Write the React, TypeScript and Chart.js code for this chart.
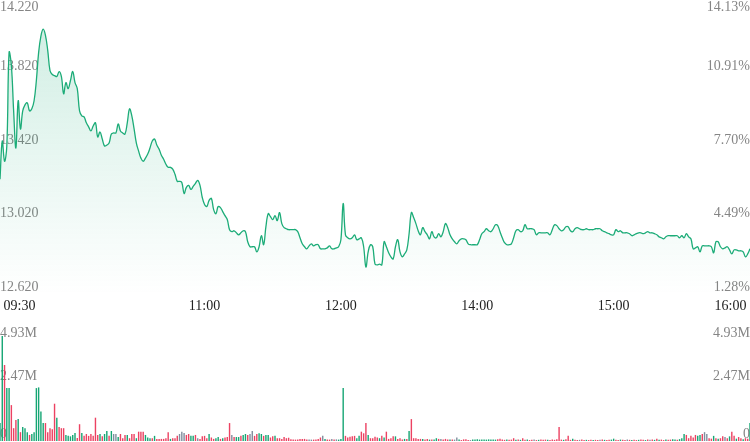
import { useEffect, useRef } from 'react';
import { Chart, registerables } from 'chart.js';

Chart.register(...registerables);

// previous close, used for the percentage labels on the right
const PRE_CLOSE = 12.46;
const PRICE_MIN = 12.62;
const PRICE_MAX = 14.22;
const PRICE_TICKS = [12.62, 13.02, 13.42, 13.82];
const PRICE_TOP_TICK = [14.22];

// minutes since 09:30, lunch break removed (12:00 and 13:00 share one point)
const TIME_TICKS = [0, 90, 150, 210, 270, 330];
const TIME_LABELS = ['09:30', '11:00', '12:00', '14:00', '15:00', '16:00'];

// volume in millions
const VOL_MAX = 4.934;

// one price per minute
const PRICE = [
  13.245, 13.453, 13.343, 13.426, 13.935, 13.864, 13.617, 13.415, 13.672, 13.519, 13.617,
  13.650, 13.661, 13.617, 13.628, 13.672, 13.782, 13.935, 14.023, 14.061, 14.028,
  13.946, 13.836, 13.815, 13.809, 13.804, 13.831, 13.804, 13.710, 13.771, 13.738,
  13.782, 13.831, 13.771, 13.738, 13.617, 13.590, 13.584, 13.552, 13.530, 13.508,
  13.535, 13.552, 13.475, 13.502, 13.464, 13.426, 13.431, 13.442, 13.491, 13.497,
  13.497, 13.546, 13.508, 13.497, 13.491, 13.552, 13.628, 13.590, 13.519, 13.442,
  13.398, 13.360, 13.343, 13.360, 13.382, 13.415, 13.453, 13.464, 13.431, 13.409,
  13.376, 13.354, 13.327, 13.310, 13.310, 13.300, 13.272, 13.234, 13.234, 13.228,
  13.168, 13.201, 13.212, 13.190, 13.206, 13.223, 13.239, 13.212, 13.146, 13.108,
  13.097, 13.130, 13.141, 13.080, 13.058, 13.097, 13.091, 13.069, 13.047, 13.026,
  12.971, 12.960, 12.965, 12.954, 12.943, 12.954, 12.965, 12.960, 12.905, 12.878,
  12.878, 12.878, 12.850, 12.878, 12.938, 12.889, 12.987, 13.058, 13.042, 13.026,
  13.047, 13.020, 13.064, 13.004, 12.982, 12.976, 12.971, 12.971, 12.971, 12.971,
  12.960, 12.927, 12.894, 12.878, 12.867, 12.883, 12.894, 12.883, 12.889, 12.889,
  12.867, 12.867, 12.867, 12.872, 12.883, 12.867, 12.867, 12.872, 12.878, 12.916,
  13.113, 12.943, 12.927, 12.921, 12.927, 12.943, 12.916, 12.921, 12.927, 12.878,
  12.768, 12.850, 12.889, 12.878, 12.784, 12.779, 12.784, 12.779, 12.905, 12.878,
  12.845, 12.823, 12.812, 12.878, 12.916, 12.850, 12.823, 12.839, 12.861, 12.949,
  13.064, 13.037, 13.004, 12.965, 12.943, 12.982, 12.960, 12.943, 12.921, 12.960,
  12.932, 12.927, 12.949, 12.932, 12.960, 13.004, 12.982, 12.943, 12.921, 12.905,
  12.894, 12.911, 12.921, 12.921, 12.916, 12.894, 12.889, 12.889, 12.889, 12.889,
  12.916, 12.949, 12.960, 12.976, 12.965, 12.960, 12.976, 12.998, 12.993, 12.960,
  12.927, 12.900, 12.889, 12.889, 12.894, 12.927, 12.965, 12.971, 12.960, 12.965,
  12.998, 12.976, 12.976, 12.976, 12.971, 12.943, 12.954, 12.954, 12.954, 12.954,
  12.954, 12.943, 12.971, 12.998, 12.993, 12.976, 12.965, 12.971, 12.987, 12.987,
  12.965, 12.960, 12.976, 12.982, 12.976, 12.971, 12.971, 12.976, 12.971, 12.971,
  12.971, 12.976, 12.976, 12.976, 12.965, 12.960, 12.954, 12.949, 12.943, 12.943,
  12.971, 12.960, 12.965, 12.954, 12.954, 12.954, 12.949, 12.938, 12.943, 12.949,
  12.954, 12.954, 12.949, 12.954, 12.960, 12.954, 12.954, 12.949, 12.943, 12.932,
  12.927, 12.921, 12.932, 12.938, 12.938, 12.938, 12.938, 12.938, 12.927, 12.938,
  12.927, 12.949, 12.932, 12.921, 12.867, 12.872, 12.878, 12.850, 12.883, 12.883,
  12.883, 12.883, 12.878, 12.845, 12.905, 12.905, 12.878, 12.867, 12.872, 12.878,
  12.861, 12.839, 12.861, 12.861, 12.856, 12.856, 12.850, 12.823, 12.839, 12.867,
];

// one volume bar per minute (millions)
const VOLUME = [
  0.77, 4.5, 3.26, 2.27, 2.27, 1.54, 0.55, 0.9, 0.94, 0.38,
  0.6, 0.55, 0.38, 0.26, 0.3, 0.38, 2.27, 2.3, 1.27, 0.77,
  0.77, 0.38, 0.55, 0.5, 1.6, 1.0, 0.6, 0.55, 0.55, 0.26,
  0.22, 0.2, 0.26, 0.34, 0.13, 0.72, 0.34, 0.22, 0.3, 0.22,
  0.3, 0.22, 1.0, 0.26, 0.3, 0.2, 0.3, 0.43, 0.22, 0.43,
  0.3, 0.3, 0.17, 0.3, 0.12, 0.26, 0.26, 0.12, 0.3, 0.3,
  0.12, 0.4, 0.4, 0.4, 0.26, 0.15, 0.12, 0.12, 0.22, 0.09,
  0.09, 0.09, 0.09, 0.12, 0.38, 0.09, 0.12, 0.12, 0.22, 0.3,
  0.4, 0.34, 0.26, 0.3, 0.22, 0.22, 0.26, 0.12, 0.09, 0.2,
  0.22, 0.12, 0.3, 0.15, 0.09, 0.12, 0.17, 0.09, 0.12, 0.15,
  0.17, 0.77, 0.26, 0.17, 0.17, 0.17, 0.22, 0.26, 0.3, 0.26,
  0.3, 0.43, 0.22, 0.3, 0.33, 0.3, 0.22, 0.26, 0.26, 0.15,
  0.2, 0.22, 0.12, 0.12, 0.09, 0.17, 0.12, 0.14, 0.07, 0.06,
  0.06, 0.06, 0.09, 0.09, 0.09, 0.06, 0.06, 0.06, 0.06, 0.06,
  0.09, 0.15, 0.22, 0.09, 0.06, 0.06, 0.09, 0.06, 0.07, 0.06,
  0.09, 2.27, 0.22, 0.15, 0.18, 0.2, 0.22, 0.12, 0.22, 0.4,
  0.33, 0.77, 0.26, 0.12, 0.12, 0.18, 0.15, 0.12, 0.22, 0.15,
  0.4, 0.09, 0.12, 0.2, 0.2, 0.09, 0.12, 0.06, 0.09, 0.09,
  0.43, 0.94, 0.12, 0.12, 0.09, 0.09, 0.09, 0.06, 0.09, 0.06,
  0.06, 0.06, 0.12, 0.09, 0.09, 0.06, 0.09, 0.06, 0.06, 0.06,
  0.06, 0.15, 0.06, 0.04, 0.07, 0.07, 0.04, 0.04, 0.06, 0.06,
  0.07, 0.06, 0.06, 0.06, 0.06, 0.07, 0.06, 0.06, 0.06, 0.07,
  0.1, 0.06, 0.05, 0.06, 0.05, 0.06, 0.12, 0.05, 0.06, 0.05,
  0.12, 0.05, 0.06, 0.04, 0.05, 0.06, 0.04, 0.05, 0.06, 0.05,
  0.06, 0.05, 0.04, 0.06, 0.05, 0.08, 0.6, 0.06, 0.05, 0.08,
  0.22, 0.05, 0.1, 0.05, 0.04, 0.05, 0.06, 0.04, 0.05, 0.04,
  0.05, 0.04, 0.05, 0.04, 0.05, 0.06, 0.05, 0.04, 0.05, 0.06,
  0.1, 0.05, 0.04, 0.06, 0.05, 0.04, 0.06, 0.05, 0.04, 0.05,
  0.04, 0.05, 0.06, 0.05, 0.04, 0.06, 0.05, 0.06, 0.05, 0.1,
  0.05, 0.06, 0.04, 0.06, 0.05, 0.06, 0.08, 0.06, 0.05, 0.08,
  0.12, 0.3, 0.26, 0.12, 0.22, 0.15, 0.26, 0.22, 0.26, 0.3,
  0.38, 0.3, 0.12, 0.1, 0.22, 0.12, 0.1, 0.12, 0.2, 0.17,
  0.12, 0.2, 0.4, 0.22, 0.1, 0.17, 0.12, 0.08, 0.12, 0.1,
  0.77,
];

// G = up minute, R = down minute, N = unchanged
const VOL_DIR = (
  'GGRGGRRRGR GGGRGGGGGG RRRRRGRRRG GGGGRRGRRR RRRRGRGGRG ' +
  'NNGRRRGRRR GRRRGGGRGR RRRRRGRRRN NNRRGGRNRR RRGRRGGRGR ' +
  'RRNRGGRGGR NNRRGGRGGR RGRRRRRRRR RRRRRRNNRR RRNGRRNRNG ' +
  'GGRRRRRGGR RRGRRRRGRG RRRRGRRRGR GRRRRRGRRG RGGRNRRRGR ' +
  'NNGRRRRNGG GGGGGGGGGR RRRGRRRGRG RRGRRNRGRR RGRRRRRRGR ' +
  'RRGRRNRRGR RGRRNRGRRG GRRGRRNRGR RGRRGRNRGR GRRGRRGGRG ' +
  'GGRRRRRGGR NNRRGRGRRN RGRRGRRGRR G'
).replace(/ /g, '');

const LINE = 'rgb(28, 172, 120)';
const UP = 'rgb(22, 166, 116)';
const DOWN = 'rgb(236, 66, 98)';
const FLAT = 'rgb(128, 142, 158)';
const GREY = '#858585';
const FONT = { family: "'Times New Roman', 'Liberation Serif', serif", size: 14 };

const fmtPrice = (v: number) => v.toFixed(3);
const fmtPct = (v: number) => ((v / PRE_CLOSE - 1) * 100).toFixed(2) + '%';
const fmtVol = (v: number) => (v === 0 ? '0' : v.toFixed(2) + 'M');

// labels sit inside the plot, so no axis should push the plot area in
const noPadding = (axis: any) => {
  axis.paddingTop = 0;
  axis.paddingBottom = 0;
  axis.paddingLeft = 0;
  axis.paddingRight = 0;
};

// label-only y axis drawn inside the plot
function labelAxis(
  position: 'left' | 'right',
  values: number[],
  align: 'start' | 'end',
  fmt: (v: number) => string,
  min: number,
  max: number
) {
  return {
    type: 'linear',
    axis: 'y',
    position,
    min,
    max,
    grid: { display: false, drawTicks: false },
    border: { display: false },
    afterBuildTicks: (axis: any) => {
      axis.ticks = values.map((value) => ({ value }));
    },
    afterFit: noPadding,
    ticks: {
      mirror: true,
      padding: 0,
      align,
      color: GREY,
      font: FONT,
      callback: (v: any) => fmt(Number(v)),
    },
  };
}

export default function App() {
  const priceRef = useRef<HTMLCanvasElement>(null);
  const volRef = useRef<HTMLCanvasElement>(null);

  useEffect(() => {
    if (!priceRef.current || !volRef.current) return;

    const priceChart = new Chart(priceRef.current, {
      type: 'line',
      data: {
        datasets: [
          {
            data: PRICE.map((p, i) => ({ x: i, y: p })),
            xAxisID: 'x',
            yAxisID: 'yP',
            borderColor: LINE,
            borderWidth: 1.3,
            pointRadius: 0,
            tension: 0.4,
            fill: 'start',
            backgroundColor: (ctx: any) => {
              const { chart } = ctx;
              const area = chart.chartArea;
              if (!area) return 'rgba(28, 172, 120, 0.1)';
              const g = chart.ctx.createLinearGradient(0, area.top, 0, area.bottom);
              g.addColorStop(0, 'rgba(28, 172, 120, 0.22)');
              g.addColorStop(1, 'rgba(28, 172, 120, 0)');
              return g;
            },
          },
        ],
      },
      options: {
        animation: false,
        responsive: true,
        maintainAspectRatio: false,
        events: [],
        layout: { padding: 0 },
        plugins: { legend: { display: false }, tooltip: { enabled: false } },
        scales: {
          x: {
            type: 'linear',
            min: 0,
            max: 330,
            offset: false,
            grid: { display: false, drawTicks: false },
            border: { display: false },
            afterBuildTicks: (axis: any) => {
              axis.ticks = TIME_TICKS.map((value) => ({ value }));
            },
            afterFit: noPadding,
            ticks: {
              align: 'inner',
              padding: 4,
              maxRotation: 0,
              autoSkip: false,
              color: '#222',
              font: FONT,
              callback: (_v: any, i: number) => {
                const label = TIME_LABELS[i];
                if (i === 0) return ' ' + label;
                if (i === TIME_LABELS.length - 1) return label + ' ';
                return label;
              },
            },
          },
          yP: labelAxis('left', PRICE_TICKS, 'end', fmtPrice, PRICE_MIN, PRICE_MAX),
          yPT: labelAxis('left', PRICE_TOP_TICK, 'start', fmtPrice, PRICE_MIN, PRICE_MAX),
          yR: labelAxis('right', PRICE_TICKS, 'end', fmtPct, PRICE_MIN, PRICE_MAX),
          yRT: labelAxis('right', PRICE_TOP_TICK, 'start', fmtPct, PRICE_MIN, PRICE_MAX),
        } as any,
      },
    });

    const dirColor = (d: string) => (d === 'G' ? UP : d === 'R' ? DOWN : FLAT);

    const volChart = new Chart(volRef.current, {
      type: 'bar',
      data: {
        datasets: [
          {
            data: VOLUME.map((v, i) => ({ x: i, y: v })),
            xAxisID: 'x',
            yAxisID: 'vL',
            backgroundColor: VOLUME.map((_v, i) => dirColor(VOL_DIR[i])),
            borderWidth: 0,
            barPercentage: 1,
            categoryPercentage: 0.62,
          },
        ],
      },
      options: {
        animation: false,
        responsive: true,
        maintainAspectRatio: false,
        events: [],
        layout: { padding: { top: 7, bottom: 1, left: 0, right: 0 } },
        plugins: { legend: { display: false }, tooltip: { enabled: false } },
        scales: {
          x: {
            type: 'linear',
            min: 0,
            max: 330,
            offset: false,
            display: false,
          },
          vL: labelAxis('left', [0, VOL_MAX / 2], 'end', fmtVol, 0, VOL_MAX),
          vLT: labelAxis('left', [VOL_MAX], 'start', fmtVol, 0, VOL_MAX),
          vR: labelAxis('right', [0, VOL_MAX / 2], 'end', fmtVol, 0, VOL_MAX),
          vRT: labelAxis('right', [VOL_MAX], 'start', fmtVol, 0, VOL_MAX),
        } as any,
      },
    });

    return () => {
      priceChart.destroy();
      volChart.destroy();
    };
  }, []);

  return (
    <div style={{ position: 'absolute', left: 0, top: 0, width: 750, height: 442, background: '#fff' }}>
      <div style={{ position: 'relative', width: 750, height: 319 }}>
        <canvas ref={priceRef} />
      </div>
      <div style={{ position: 'relative', width: 750, height: 123 }}>
        <canvas ref={volRef} />
      </div>
    </div>
  );
}
